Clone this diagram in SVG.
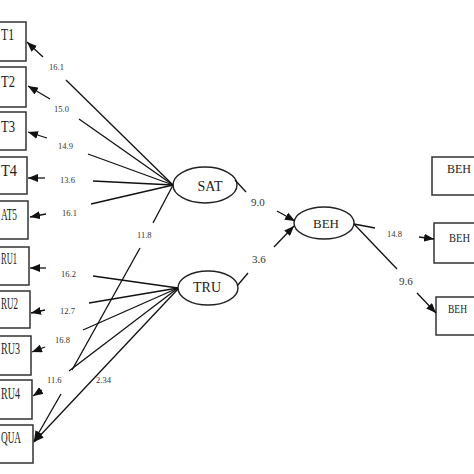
<svg xmlns="http://www.w3.org/2000/svg" width="474" height="474" viewBox="0 0 474 474">
<defs>
<marker id="ah" markerUnits="userSpaceOnUse" markerWidth="10" markerHeight="8" refX="10" refY="4" orient="auto">
<path d="M0,0 L10,4 L0,8 Z" fill="#111"/>
</marker>
<style>
.box{fill:#fff;stroke:#333;stroke-width:1.5}
.ell{fill:#fff;stroke:#222;stroke-width:1.4}
.ln{stroke:#111;stroke-width:1.3;fill:none}
.ar{stroke:#111;stroke-width:1.3;fill:none;marker-end:url(#ah)}
.nt{font-family:"Liberation Serif","Times New Roman",serif;fill:#222}
.lt{font-family:"Liberation Serif","Times New Roman",serif;fill:#222;font-size:16px}
.lb{font-family:"Liberation Serif","Times New Roman",serif;fill:#333;font-size:8.5px}
.lb2{font-family:"Liberation Serif","Times New Roman",serif;fill:#333;font-size:11px}
</style>
</defs>
<rect width="474" height="474" fill="#fff"/>
<g id="sat1"><rect class="box" x="-40" y="22" width="66" height="39"/><text class="lt" x="1" y="40" textLength="13" lengthAdjust="spacingAndGlyphs">T1</text></g>
<g id="sat2"><rect class="box" x="-40" y="67" width="66" height="40"/><text class="lt" x="1" y="87" textLength="14" lengthAdjust="spacingAndGlyphs">T2</text></g>
<g id="sat3"><rect class="box" x="-40" y="112" width="66" height="38"/><text class="lt" x="1" y="132" textLength="14" lengthAdjust="spacingAndGlyphs">T3</text></g>
<g id="sat4"><rect class="box" x="-40" y="157" width="67" height="37"/><text class="lt" x="1" y="176" textLength="16" lengthAdjust="spacingAndGlyphs">T4</text></g>
<g id="sat5"><rect class="box" x="-40" y="201" width="68" height="38"/><text class="lt" x="1" y="220" textLength="16" lengthAdjust="spacingAndGlyphs">AT5</text></g>
<g id="tru1"><rect class="box" x="-40" y="247" width="69" height="38"/><text class="lt" x="1" y="264" textLength="16" lengthAdjust="spacingAndGlyphs">RU1</text></g>
<g id="tru2"><rect class="box" x="-40" y="291" width="70" height="37"/><text class="lt" x="1" y="309" textLength="17" lengthAdjust="spacingAndGlyphs">RU2</text></g>
<g id="tru3"><rect class="box" x="-40" y="336" width="71" height="39"/><text class="lt" x="1" y="354" textLength="19" lengthAdjust="spacingAndGlyphs">RU3</text></g>
<g id="tru4"><rect class="box" x="-40" y="380" width="72" height="39"/><text class="lt" x="1" y="399" textLength="19" lengthAdjust="spacingAndGlyphs">RU4</text></g>
<g id="qua"><rect class="box" x="-40" y="425" width="73" height="38"/><text class="lt" x="1" y="443" textLength="20" lengthAdjust="spacingAndGlyphs">QUA</text></g>
<g id="sat"><ellipse class="ell" cx="205" cy="185" rx="32" ry="18"/><text class="nt" x="210" y="191" font-size="14" text-anchor="middle">SAT</text></g>
<g id="tru"><ellipse class="ell" cx="208" cy="288" rx="30" ry="17"/><text class="nt" x="207" y="292" font-size="14" text-anchor="middle">TRU</text></g>
<g id="beh"><ellipse class="ell" cx="324" cy="223" rx="30" ry="16"/><text class="nt" x="326" y="228" font-size="13" text-anchor="middle">BEH</text></g>
<g id="beh1"><rect class="box" x="432" y="157" width="60" height="38"/><text class="nt" x="447" y="173" font-size="13" textLength="24" lengthAdjust="spacingAndGlyphs">BEH</text></g>
<g id="beh2"><rect class="box" x="434" y="223" width="60" height="40"/><text class="nt" x="449" y="242" font-size="13" textLength="21" lengthAdjust="spacingAndGlyphs">BEH</text></g>
<g id="beh3"><rect class="box" x="436" y="297" width="60" height="38"/><text class="nt" x="448" y="313" font-size="13" textLength="19" lengthAdjust="spacingAndGlyphs">BEH</text></g>
<g id="connectors">
<line class="ln" x1="173" y1="185" x2="66" y2="80"/>
<line class="ar" x1="43" y1="57" x2="27" y2="42"/>
<line class="ln" x1="173" y1="185" x2="79" y2="119"/>
<line class="ar" x1="50" y1="99" x2="28" y2="86"/>
<line class="ln" x1="173" y1="185" x2="88" y2="154"/>
<line class="ar" x1="47" y1="138" x2="28" y2="132"/>
<line class="ln" x1="173" y1="185" x2="93" y2="181"/>
<line class="ar" x1="45" y1="178" x2="28" y2="178"/>
<line class="ln" x1="173" y1="185" x2="91" y2="204"/>
<line class="ar" x1="46" y1="214" x2="30" y2="217"/>
<line class="ln" x1="173" y1="185" x2="153" y2="223"/>
<line class="ln" x1="140" y1="248" x2="72" y2="370"/>
<line class="ar" x1="61" y1="394" x2="34" y2="441"/>
<line class="ln" x1="178" y1="288" x2="93" y2="276"/>
<line class="ar" x1="46" y1="268" x2="30" y2="268"/>
<line class="ln" x1="178" y1="288" x2="89" y2="303"/>
<line class="ar" x1="45" y1="310" x2="31" y2="313"/>
<line class="ln" x1="178" y1="288" x2="83" y2="330"/>
<line class="ar" x1="45" y1="347" x2="32" y2="352"/>
<line class="ln" x1="178" y1="288" x2="69" y2="371"/>
<line class="ar" x1="42" y1="390" x2="33" y2="396"/>
<line class="ar" x1="178" y1="289" x2="34" y2="442"/>
<line class="ln" x1="235" y1="180" x2="246" y2="192"/>
<line class="ar" x1="277" y1="211" x2="295" y2="221"/>
<line class="ln" x1="237" y1="286" x2="248" y2="273"/>
<line class="ar" x1="274" y1="247" x2="294" y2="226"/>
<line class="ln" x1="354" y1="224" x2="375" y2="228"/>
<line class="ar" x1="419" y1="237" x2="434" y2="239"/>
<line class="ln" x1="354" y1="224" x2="397" y2="269"/>
<line class="ar" x1="417" y1="293" x2="436" y2="313"/>
<text class="lb" x="49" y="70">16.1</text>
<text class="lb" x="54" y="112">15.0</text>
<text class="lb" x="58" y="149">14.9</text>
<text class="lb" x="60" y="183">13.6</text>
<text class="lb" x="62" y="216">16.1</text>
<text class="lb" x="137" y="238">11.8</text>
<text class="lb" x="61" y="277">16.2</text>
<text class="lb" x="60" y="314">12.7</text>
<text class="lb" x="55" y="343">16.8</text>
<text class="lb" x="47" y="383">11.6</text>
<text class="lb" x="96" y="383">2.34</text>
<text class="lb2" x="251" y="206">9.0</text>
<text class="lb2" x="252" y="263">3.6</text>
<text class="lb" x="387" y="237">14.8</text>
<text class="lb2" x="399" y="285">9.6</text>
</g>
</svg>
